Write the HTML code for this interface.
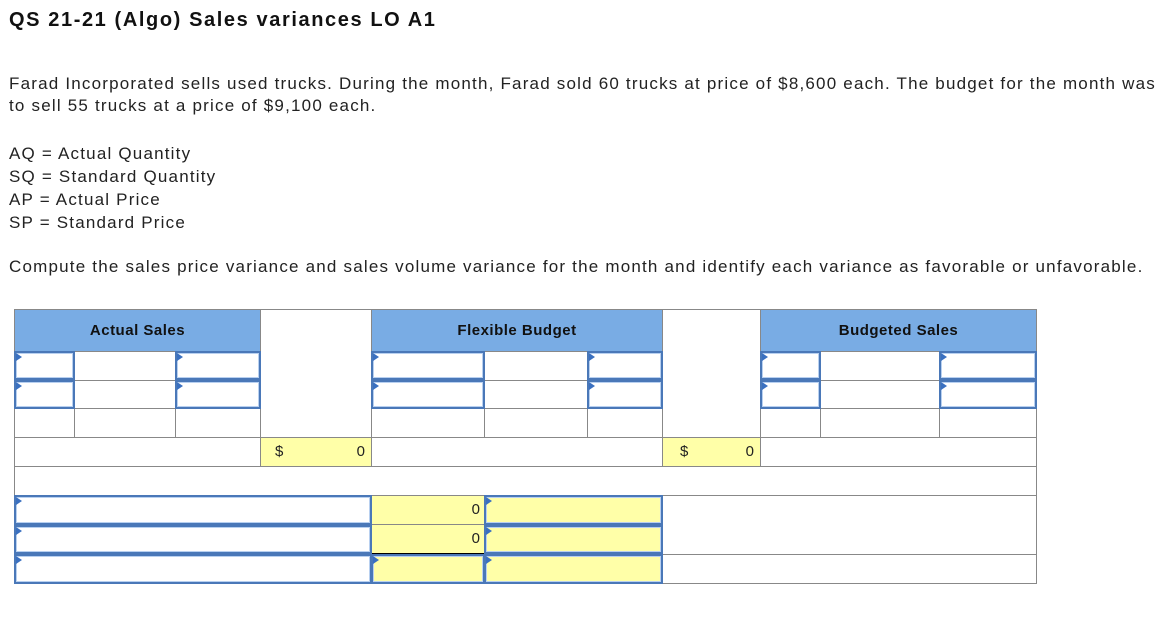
<!DOCTYPE html>
<html><head><meta charset="utf-8"><style>
body{margin:0;width:1175px;height:618px;background:#fff;font-family:"Liberation Sans",Arial,sans-serif;color:#222;position:relative;overflow:hidden}
.a{position:absolute;box-sizing:border-box}
.t{position:absolute;font-size:17px;white-space:nowrap;letter-spacing:1.2px}
.c{position:absolute;box-sizing:border-box;border:1px solid #888}
.h{background:#79ace4;font-weight:bold;font-size:15px;letter-spacing:0.5px;display:flex;align-items:center;justify-content:center;color:#111}
.y{background:#ffffa8}
.in{position:absolute;box-sizing:border-box;border:2px solid #4a78b8;box-shadow:inset 0 0 0 1px #b8d0f0;background:#fff}
.in.yy{background:#ffffa8}
.in::before{content:"";position:absolute;left:0;top:0;border-left:6px solid #3a70c0;border-top:4px solid transparent;border-bottom:4px solid transparent}
.v{position:absolute;font-size:15px}
</style></head><body>
<div class="t" style="left:9px;top:9px;font-size:20px;font-weight:bold;color:#111;letter-spacing:1.6px">QS 21-21 (Algo) Sales variances LO A1</div>
<div class="t" style="left:9px;top:73px;line-height:22px">Farad Incorporated sells used trucks. During the month, Farad sold 60 trucks at price of $8,600 each. The budget for the month was<br>to sell 55 trucks at a price of $9,100 each.</div>
<div class="t" style="left:9px;top:142px;line-height:23px">AQ = Actual Quantity<br>SQ = Standard Quantity<br>AP = Actual Price<br>SP = Standard Price</div>
<div class="t" style="left:9px;top:257px">Compute the sales price variance and sales volume variance for the month and identify each variance as favorable or unfavorable.</div>

<div class="c h" style="left:14px;top:309px;width:247px;height:43px">Actual Sales</div>
<div class="c" style="left:260px;top:309px;width:112px;height:129px"></div>
<div class="c h" style="left:371px;top:309px;width:292px;height:43px">Flexible Budget</div>
<div class="c" style="left:662px;top:309px;width:99px;height:129px"></div>
<div class="c h" style="left:760px;top:309px;width:277px;height:43px">Budgeted Sales</div>

<div class="c" style="left:74px;top:351px;width:102px;height:30px"></div>
<div class="c" style="left:74px;top:380px;width:102px;height:29px;border-bottom:1px solid #000"></div>
<div class="c" style="left:14px;top:408px;width:61px;height:30px"></div>
<div class="c" style="left:74px;top:408px;width:102px;height:30px"></div>
<div class="c" style="left:175px;top:408px;width:86px;height:30px"></div>
<div class="c" style="left:484px;top:351px;width:104px;height:30px"></div>
<div class="c" style="left:484px;top:380px;width:104px;height:29px"></div>
<div class="c" style="left:371px;top:408px;width:114px;height:30px"></div>
<div class="c" style="left:484px;top:408px;width:104px;height:30px"></div>
<div class="c" style="left:587px;top:408px;width:76px;height:30px"></div>
<div class="c" style="left:820px;top:351px;width:120px;height:30px"></div>
<div class="c" style="left:820px;top:380px;width:120px;height:29px"></div>
<div class="c" style="left:760px;top:408px;width:61px;height:30px"></div>
<div class="c" style="left:820px;top:408px;width:120px;height:30px"></div>
<div class="c" style="left:939px;top:408px;width:98px;height:30px"></div>

<div class="in" style="left:14px;top:351px;width:61px;height:29px"></div>
<div class="in" style="left:14px;top:380px;width:61px;height:29px"></div>
<div class="in" style="left:175px;top:351px;width:86px;height:29px"></div>
<div class="in" style="left:175px;top:380px;width:86px;height:29px"></div>
<div class="in" style="left:371px;top:351px;width:114px;height:29px"></div>
<div class="in" style="left:371px;top:380px;width:114px;height:29px"></div>
<div class="in" style="left:587px;top:351px;width:76px;height:29px"></div>
<div class="in" style="left:587px;top:380px;width:76px;height:29px"></div>
<div class="in" style="left:760px;top:351px;width:61px;height:29px"></div>
<div class="in" style="left:760px;top:380px;width:61px;height:29px"></div>
<div class="in" style="left:939px;top:351px;width:98px;height:29px"></div>
<div class="in" style="left:939px;top:380px;width:98px;height:29px"></div>

<div class="c" style="left:14px;top:437px;width:247px;height:30px"></div>
<div class="c y" style="left:260px;top:437px;width:112px;height:30px"><span class="v" style="left:14px;top:5px">$</span><span class="v" style="right:6px;top:5px">0</span></div>
<div class="c" style="left:371px;top:437px;width:292px;height:30px"></div>
<div class="c y" style="left:662px;top:437px;width:99px;height:30px"><span class="v" style="left:17px;top:5px">$</span><span class="v" style="right:6px;top:5px">0</span></div>
<div class="c" style="left:760px;top:437px;width:277px;height:30px"></div>
<div class="c" style="left:14px;top:466px;width:1023px;height:30px"></div>

<div class="c y" style="left:371px;top:495px;width:114px;height:30px"><span class="v" style="right:4px;top:5px">0</span></div>
<div class="c y" style="left:371px;top:524px;width:114px;height:30px;border-bottom:1px solid #000"><span class="v" style="right:4px;top:5px">0</span></div>
<div class="c" style="left:662px;top:495px;width:375px;height:60px"></div>
<div class="c" style="left:662px;top:554px;width:375px;height:30px"></div>
<div class="in" style="left:14px;top:495px;width:358px;height:30px"></div>
<div class="in" style="left:14px;top:525px;width:358px;height:29px"></div>
<div class="in" style="left:14px;top:554px;width:358px;height:30px"></div>
<div class="in yy" style="left:371px;top:554px;width:114px;height:30px"></div>
<div class="in yy" style="left:484px;top:495px;width:179px;height:30px"></div>
<div class="in yy" style="left:484px;top:525px;width:179px;height:29px"></div>
<div class="in yy" style="left:484px;top:554px;width:179px;height:30px"></div>
</body></html>
